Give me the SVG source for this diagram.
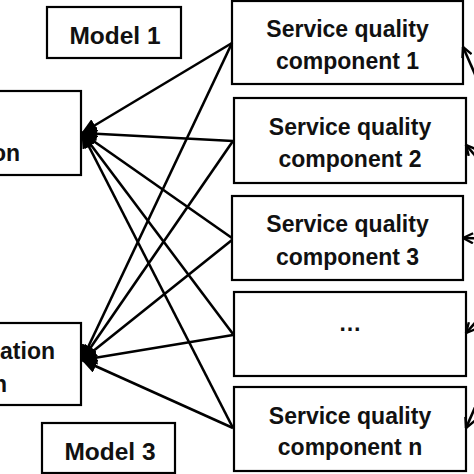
<svg xmlns="http://www.w3.org/2000/svg" width="474" height="474" viewBox="0 0 474 474">
<defs>
<style>
.box{fill:#fff;stroke:#000;stroke-width:2.2}
.t{font-family:"Liberation Sans",Arial,sans-serif;font-weight:bold;font-size:23px;fill:#111;text-anchor:middle}
.m{font-size:24.5px}
.c{fill:none;stroke:#000;stroke-width:2.6}
</style>
<marker id="fa" markerUnits="userSpaceOnUse" viewBox="0 0 16 14" refX="15" refY="7" markerWidth="16" markerHeight="14" orient="auto">
<path d="M0,0 L16,7 L0,14 z" fill="#000"/>
</marker>
<marker id="oa" markerUnits="userSpaceOnUse" viewBox="0 0 12 12" refX="11" refY="6" markerWidth="12" markerHeight="12" orient="auto">
<path d="M1,1 L11,6 L1,11" fill="none" stroke="#000" stroke-width="2.4"/>
</marker>
</defs>
<rect width="474" height="474" fill="#fff"/>
<g id="model1"><rect class="box" x="47" y="7" width="134" height="51"/><text class="t m" x="115" y="44">Model 1</text></g>
<g id="model3"><rect class="box" x="42" y="423" width="133" height="50"/><text class="t m" x="110" y="460">Model 3</text></g>
<g id="left-top"><rect class="box" x="-10" y="91" width="91" height="84"/><text class="t" x="20" y="161" style="text-anchor:end">on</text></g>
<g id="left-bottom"><rect class="box" x="-10" y="323" width="91" height="82"/><text class="t" x="55" y="359" style="text-anchor:end">ation</text><text class="t" x="7" y="392" style="text-anchor:end">n</text></g>
<g id="sq1"><rect class="box" x="232" y="1" width="231" height="83"/><text class="t" x="347.5" y="37">Service quality</text><text class="t" x="347.5" y="69">component 1</text></g>
<g id="sq2"><rect class="box" x="234" y="98" width="232" height="85"/><text class="t" x="350" y="135">Service quality</text><text class="t" x="350" y="167">component 2</text></g>
<g id="sq3"><rect class="box" x="232" y="196" width="231" height="84"/><text class="t" x="347.5" y="232">Service quality</text><text class="t" x="347.5" y="265">component 3</text></g>
<g id="sq4"><rect class="box" x="234" y="292" width="232" height="84"/><text class="t" x="350" y="331">…</text></g>
<g id="sq5"><rect class="box" x="234" y="387" width="232" height="84"/><text class="t" x="350" y="424">Service quality</text><text class="t" x="350" y="455">component n</text></g>
<g id="connectors">
<line class="c" x1="232" y1="43" x2="82" y2="133" marker-end="url(#fa)"/>
<line class="c" x1="233" y1="141" x2="82" y2="133" marker-end="url(#fa)"/>
<line class="c" x1="232" y1="238" x2="82" y2="133" marker-end="url(#fa)"/>
<line class="c" x1="233" y1="334" x2="82" y2="133" marker-end="url(#fa)"/>
<line class="c" x1="233" y1="428" x2="82" y2="133" marker-end="url(#fa)"/>
<line class="c" x1="232" y1="43" x2="82" y2="360" marker-end="url(#fa)"/>
<line class="c" x1="233" y1="141" x2="82" y2="360" marker-end="url(#fa)"/>
<line class="c" x1="232" y1="240" x2="82" y2="360" marker-end="url(#fa)"/>
<line class="c" x1="233" y1="335" x2="82" y2="360" marker-end="url(#fa)"/>
<line class="c" x1="233" y1="428" x2="82" y2="360" marker-end="url(#fa)"/>
<line class="c" x1="548" y1="240" x2="463" y2="47" marker-end="url(#oa)"/>
<line class="c" x1="548" y1="240" x2="466" y2="145" marker-end="url(#oa)"/>
<line class="c" x1="548" y1="240" x2="463" y2="238" marker-end="url(#oa)"/>
<line class="c" x1="548" y1="240" x2="466" y2="333" marker-end="url(#oa)"/>
<line class="c" x1="548" y1="240" x2="466" y2="428" marker-end="url(#oa)"/>
</g>
</svg>
